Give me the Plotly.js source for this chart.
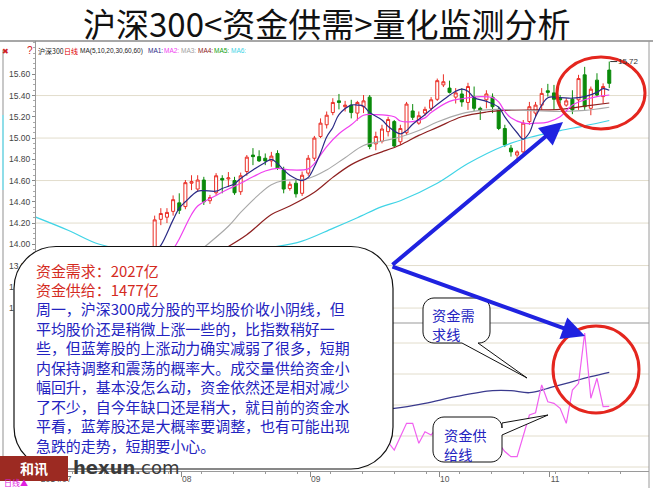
<!DOCTYPE html>
<html><head><meta charset="utf-8">
<script src="https://cdn.plot.ly/plotly-3.0.1.min.js"></script>
<style>html,body{margin:0;padding:0;background:#fff}#chart{width:653px;height:488px}</style>
</head><body><div id="chart"></div>
<script>
// ---------- DATA (day index: 0 = 2014-07-01, trading days) ----------
const candleDays = [18,19,20,21,22,23,24,25,26,27,28,29,30,31,32,33,34,35,36,37,38,39,40,41,42,43,44,45,46,47,48,49,50,51,52,53,54,55,56,57,58,59,60,61,62,63,64,65,66,67,68,69,70,71,72,73,74,75,76,77,78,79,80,81,82,83,84,85,86,87,88,89,90,91,92];
const openP  = [13.93,14.235,14.255,14.31,14.39,14.355,14.575,14.52,14.605,14.41,14.485,14.62,14.615,14.60,14.495,14.685,14.84,14.825,14.81,14.785,14.855,14.70,14.525,14.575,14.48,14.67,14.81,15.015,15.125,15.24,15.35,15.295,15.31,15.235,15.295,15.385,14.945,14.97,15.06,15.155,14.965,15.05,15.255,15.14,15.235,15.28,15.365,15.50,15.47,15.385,15.415,15.335,15.385,15.28,15.36,15.385,15.27,15.09,14.905,14.84,14.87,15.155,15.235,15.31,15.445,15.425,15.375,15.31,15.365,15.36,15.595,15.28,15.545,15.39,15.64];
const highP  = [14.27,14.34,14.34,14.46,14.48,14.605,14.65,14.65,14.635,14.465,14.67,14.65,14.68,14.635,14.675,14.84,14.905,14.885,14.855,14.87,14.885,14.73,14.59,14.605,14.685,14.84,15.02,15.185,15.25,15.375,15.415,15.35,15.36,15.35,15.405,15.405,15.06,15.125,15.20,15.17,15.125,15.34,15.32,15.25,15.295,15.385,15.56,15.60,15.54,15.47,15.47,15.52,15.485,15.295,15.45,15.42,15.295,15.125,14.935,14.885,15.17,15.34,15.34,15.47,15.51,15.50,15.405,15.375,15.45,15.595,15.67,15.485,15.61,15.515,15.72];
const lowP   = [13.90,14.18,14.20,14.27,14.285,14.33,14.51,14.495,14.37,14.38,14.465,14.48,14.54,14.465,14.465,14.645,14.745,14.775,14.745,14.73,14.70,14.48,14.505,14.44,14.455,14.645,14.785,15.00,15.09,15.215,15.27,15.25,15.185,15.165,15.235,14.895,14.885,14.95,15.015,14.915,14.935,15.03,15.17,15.125,15.21,15.255,15.35,15.48,15.42,15.325,15.295,15.265,15.255,15.17,15.28,15.235,15.075,14.915,14.825,14.765,14.84,15.125,15.20,15.265,15.39,15.265,15.325,15.295,15.225,15.265,15.265,15.215,15.39,15.325,15.47];
const closeP = [14.23,14.29,14.30,14.42,14.32,14.58,14.59,14.605,14.40,14.44,14.645,14.605,14.625,14.485,14.645,14.82,14.825,14.785,14.785,14.83,14.715,14.52,14.565,14.475,14.65,14.81,15.00,15.14,15.215,15.335,15.335,15.31,15.24,15.335,15.35,14.92,15.015,15.085,15.175,14.925,15.09,15.32,15.195,15.21,15.27,15.36,15.54,15.53,15.43,15.425,15.34,15.485,15.28,15.265,15.415,15.295,15.09,14.935,14.87,14.87,15.14,15.295,15.31,15.42,15.43,15.365,15.36,15.35,15.265,15.56,15.295,15.46,15.405,15.485,15.515];

const ma5Days  = [18,19,21,22,23,25,26,28,29,31,32,34,36,37,38,39,40,42,43,44,45,46,47,48,50,51,52,53,55,56,58,59,60,62,63,65,67,68,69,70,72,74,75,77,78,79,80,82,84,86,88,90,91,92];
const ma5Vals  = [13.93,13.99,14.23,14.34,14.40,14.50,14.505,14.50,14.525,14.57,14.62,14.70,14.77,14.80,14.76,14.70,14.65,14.60,14.63,14.73,14.86,15.01,15.10,15.22,15.31,15.31,15.30,15.24,15.17,15.11,15.04,15.07,15.13,15.22,15.27,15.36,15.44,15.46,15.44,15.38,15.345,15.29,15.20,15.05,14.99,15.05,15.20,15.38,15.38,15.375,15.39,15.43,15.465,15.45];
const ma10Days = [21,22,24,25,28,30,32,34,36,38,40,43,44,46,48,50,52,54,57,58,60,62,63,66,68,71,73,74,75,76,78,80,82,84,86,88,90,92];
const ma10Vals = [13.95,14.05,14.28,14.36,14.46,14.52,14.575,14.635,14.69,14.715,14.70,14.71,14.76,14.92,15.04,15.125,15.215,15.22,15.20,15.16,15.155,15.19,15.24,15.345,15.37,15.39,15.38,15.34,15.25,15.19,15.14,15.14,15.15,15.20,15.31,15.36,15.39,15.405];
const ma20Days = [26,30,32,35,37,39,43,46,49,52,55,58,61,64,68,71,74,78,81,84,88,92];
const ma20Vals = [13.97,14.17,14.30,14.47,14.56,14.60,14.62,14.70,14.815,14.93,14.97,15.01,15.07,15.15,15.23,15.26,15.27,15.26,15.255,15.25,15.26,15.29];
const ma30Days = [30,33,37,40,44,47,50,53,55,58,61,64,68,72,75,80,84,88,92];
const ma30Vals = [13.98,14.09,14.28,14.36,14.49,14.63,14.75,14.83,14.87,14.935,15.025,15.10,15.20,15.245,15.26,15.265,15.27,15.30,15.33];
const ma60Days = [-2,4,9,17,28,38,42,47,51,55,58,64,69,75,79,84,88,92];
const ma60Vals = [14.27,14.13,14.00,13.92,13.92,13.98,14.03,14.15,14.25,14.355,14.41,14.575,14.76,14.93,15.005,15.07,15.115,15.165];

const demandDays = [54,57,62,67,73,76,79,82,85,89,92];
const demandVals = [1430,1447,1527,1634,1731,1731,1698,1769,1850,1957,2027];
const supplyDays = [55,56,57,58,59,60,61,62,63,64,65,66,67,68,69,70,71,72,73,74,75,76,77,78,79,80,81,82,83,84,85,86,87,88,89,90,91,92];
const supplyVals = [950,900,774,990,1205,1205,882,1069,1016,1150,1000,1250,1100,950,1200,1050,950,1000,1100,880,750,666,666,989,1339,1376,1823,1553,1527,1447,1205,1742,1850,2661,1608,1931,1473,1477];

const monthStartDays = [0,23,44,65,83];
const monthLabels = ['2014/07','08','09','10','11'];
const priceTicks = [13.40,13.60,13.80,14.00,14.20,14.40,14.60,14.80,15.00,15.20,15.40,15.60];
const priceGrid = [13.40,13.80,14.20,14.60,15.00,15.40];
const lastHigh = {day:92, value:15.72};

const titleText = '沪深300&lt;资金供需&gt;量化监测分析';
const headerParts = ['沪深300','日线','MA(5,10,20,30,60,60)','MA1:','MA2:','MA3:','MA4:','MA5:','MA6:'];
const noteRed = ['资金需求：2027亿','资金供给：1477亿'];
const noteBlue = ['周一，沪深300成分股的平均股价收小阴线，但','平均股价还是稍微上涨一些的，比指数稍好一','些，但蓝筹股的上涨动力确实减弱了很多，短期','内保持调整和震荡的概率大。成交量供给资金小','幅回升，基本没怎么动，资金依然还是相对减少','了不少，自今年缺口还是稍大，就目前的资金水','平看，蓝筹股还是大概率要调整，也有可能出现','急跌的走势，短期要小心。'];
const demandLabel = ['资金需','求线'];
const supplyLabel = ['资金供','给线'];

// ---------- LAYOUT GEOMETRY ----------
const W=653,H=488,L=36,R=649,T=41,B=471,PW=R-L,PH=B-T;
const splitY=323;
const px=x=>(x-L)/PW, py=y=>(B-y)/PH;
const P=(x,y)=>px(x).toFixed(5)+','+py(y).toFixed(5);
const K=0.5523;
function roundBox(x0,y0,x1,y1,r,tail){
  const c=r*(1-K);
  let d='M'+P(x0+r,y0)+' L'+P(x1-r,y0)+' C'+P(x1-c,y0)+' '+P(x1,y0+c)+' '+P(x1,y0+r);
  if(tail&&tail.side==='right'){d+=' L'+P(x1,tail.a)+' L'+P(tail.tip[0],tail.tip[1])+' L'+P(x1,tail.b);}
  d+=' L'+P(x1,y1-r)+' C'+P(x1,y1-c)+' '+P(x1-c,y1)+' '+P(x1-r,y1);
  if(tail&&tail.side==='bottom'){d+=' L'+P(tail.b,y1)+' L'+P(tail.tip[0],tail.tip[1])+' L'+P(tail.a,y1);}
  d+=' L'+P(x0+r,y1)+' C'+P(x0+c,y1)+' '+P(x0,y1-c)+' '+P(x0,y1-r);
  d+=' L'+P(x0,y0+r)+' C'+P(x0,y0+c)+' '+P(x0+c,y0)+' '+P(x0+r,y0)+' Z';
  return d;
}
const splitPaper=py(splitY);
const yTopRange=[15.60-(splitY-74.3)/106.25, 15.60+(74.3-T)/106.25];
const yBotRange=[500+(467-B)*500/31, 500+(467-splitY)*500/31];
const xRange=[(L-44.1)/6.143,(R-44.1)/6.143];

const CJK='"Noto Sans CJK SC","Noto Sans",sans-serif';
const NUM='"Liberation Sans",Arial,sans-serif';
const MA_COL=['#2a2a86','#f040f0','#a8a8a8','#8e2020','#40d4e6'];

const traces=[
  {type:'scatter',mode:'lines',x:ma60Days,y:ma60Vals,line:{color:MA_COL[4],width:1.2,shape:'spline'},xaxis:'x',yaxis:'y',hoverinfo:'skip'},
  {type:'scatter',mode:'lines',x:ma30Days,y:ma30Vals,line:{color:MA_COL[3],width:1.2,shape:'spline'},xaxis:'x',yaxis:'y',hoverinfo:'skip'},
  {type:'scatter',mode:'lines',x:ma20Days,y:ma20Vals,line:{color:MA_COL[2],width:1.1,shape:'spline'},xaxis:'x',yaxis:'y',hoverinfo:'skip'},
  {type:'candlestick',x:candleDays,open:openP,high:highP,low:lowP,close:closeP,xaxis:'x',yaxis:'y',
    increasing:{line:{color:'#ea2e26',width:1},fillcolor:'#ffffff'},
    decreasing:{line:{color:'#0a8a0a',width:1},fillcolor:'#0a8a0a'},whiskerwidth:0,hoverinfo:'skip'},
  {type:'scatter',mode:'lines',x:ma10Days,y:ma10Vals,line:{color:MA_COL[1],width:1.2,shape:'spline'},xaxis:'x',yaxis:'y',hoverinfo:'skip'},
  {type:'scatter',mode:'lines',x:ma5Days,y:ma5Vals,line:{color:MA_COL[0],width:1.2,shape:'spline'},xaxis:'x',yaxis:'y',hoverinfo:'skip'},
  {type:'scatter',mode:'lines',x:demandDays,y:demandVals,line:{color:'#3a3a8e',width:1.3,shape:'spline'},xaxis:'x',yaxis:'y2',hoverinfo:'skip'},
  {type:'scatter',mode:'lines',x:supplyDays,y:supplyVals,line:{color:'#f060f0',width:1.2},xaxis:'x',yaxis:'y2',hoverinfo:'skip'}
];

const shapes=[];
priceGrid.forEach(v=>shapes.push({type:'line',xref:'paper',yref:'y',x0:0,x1:1,y0:v,y1:v,line:{color:'#e2ddcc',width:1},layer:'below'}));
[500,1000,1500,2000,2500].forEach(v=>shapes.push({type:'line',xref:'paper',yref:'y2',x0:0,x1:1,y0:v,y1:v,line:{color:'#e2ddcc',width:1},layer:'below'}));
shapes.push({type:'line',xref:'paper',yref:'paper',x0:0,x1:1,y0:splitPaper,y1:splitPaper,line:{color:'#9a9a9a',width:1.2}});
shapes.push({type:'line',xref:'paper',yref:'paper',x0:px(0),x1:px(W),y0:py(41),y1:py(41),line:{color:'#8a8a8a',width:1.5}});
shapes.push({type:'line',xref:'paper',yref:'paper',x0:px(R),x1:px(R),y0:py(41),y1:py(488),line:{color:'#9a9a9a',width:1}});
shapes.push({type:'line',xref:'paper',yref:'paper',x0:px(3),x1:px(3),y0:py(50),y1:py(470),line:{color:'#c8c8c8',width:2}});
shapes.push({type:'line',xref:'paper',yref:'paper',x0:px(3),x1:px(3),y0:py(115),y1:py(190),line:{color:'#8fdde8',width:2}});
shapes.push({type:'path',xref:'paper',yref:'paper',path:roundBox(14,246.5,393,469,42),fillcolor:'#ffffff',line:{color:'#111',width:1.2},layer:'above'});
shapes.push({type:'path',xref:'paper',yref:'paper',path:roundBox(423,298,490,343,11,{side:'bottom',a:462,b:478,tip:[527,378]}),fillcolor:'#ffffff',line:{color:'#111',width:1},layer:'above'});
shapes.push({type:'path',xref:'paper',yref:'paper',path:roundBox(433,417,502,462,11,{side:'right',a:423,b:435,tip:[548,415]}),fillcolor:'#ffffff',line:{color:'#111',width:1},layer:'above'});
shapes.push({type:'circle',xref:'paper',yref:'paper',x0:px(557),x1:px(645),y0:py(57),y1:py(129),line:{color:'#e4261e',width:3},layer:'above'});
shapes.push({type:'circle',xref:'paper',yref:'paper',x0:px(553),x1:px(639),y0:py(326),y1:py(413),line:{color:'#e4261e',width:3},layer:'above'});
shapes.push({type:'rect',xref:'paper',yref:'paper',x0:px(0),x1:px(68),y0:py(456),y1:py(481),fillcolor:'#9c2a22',line:{width:0},layer:'above'});

const ann=[];
const txt=(x,y,text,font,extra)=>Object.assign({xref:'paper',yref:'paper',x:px(x),y:py(y),text:text,showarrow:false,xanchor:'left',yanchor:'middle',font:font,borderpad:0},extra||{});
ann.push(txt(326.5,23,titleText,{family:CJK,size:33,color:'#111'},{xanchor:'center',height:40}));
// header row
const headerX=[37,63,79,147,163,180,197,213,230];
const headerC=['#222','#e00000','#222',MA_COL[0],MA_COL[1],'#a0a0a0',MA_COL[3],'#10a010',MA_COL[4]];
headerParts.forEach((t,n)=>ann.push(txt(headerX[n],50,t,{family:n<2?'"Noto Sans CJK SC",sans-serif':NUM,size:n<2?7:6.5,color:headerC[n]},{height:9})));
ann.push(txt(5,50,'✖',{size:8,color:'#d02020'},{xanchor:'center',height:9}));
ann.push(txt(30,50,'?',{family:NUM,size:10,color:'#d02020'},{xanchor:'center',height:9}));
noteRed.concat(noteBlue).forEach((t,n)=>ann.push(txt(35,270+19.45*n,t,{family:CJK,size:14.95,color:n<2?'#d42a1e':'#2323c0'},{height:19})));
demandLabel.forEach((t,n)=>ann.push(txt(431,315+18.5*n,t,{family:CJK,size:14.2,color:'#2323c0'},{height:18})));
supplyLabel.forEach((t,n)=>ann.push(txt(443,435+18.5*n,t,{family:CJK,size:14.2,color:'#2323c0'},{height:18})));
const startPt=[391,266];
[[563,122],[585,336]].forEach(tp=>ann.push({xref:'paper',yref:'paper',x:px(tp[0]),y:py(tp[1]),ax:startPt[0]-tp[0],ay:startPt[1]-tp[1],text:'',showarrow:true,arrowhead:2,arrowsize:1.15,arrowwidth:4,arrowcolor:'#1f22e0',standoff:0}));
ann.push({xref:'x',yref:'y',x:lastHigh.day,y:lastHigh.value,text:lastHigh.value.toFixed(2),showarrow:true,arrowhead:0,arrowwidth:1,arrowcolor:'#333',ax:8,ay:0,xanchor:'left',yanchor:'middle',font:{family:NUM,size:8,color:'#333'},standoff:1,borderpad:0});
ann.push(txt(34,468,'<b>和讯</b>',{family:CJK,size:14,color:'#ffffff'},{xanchor:'center',height:16}));
ann.push(txt(72,467,'<b>hexun</b>.com',{family:'"DejaVu Sans",sans-serif',size:18,color:'#3a3a3a'},{height:15}));
ann.push(txt(3,482,'日线▲',{family:CJK,size:8,color:'#e020e0'},{height:10}));

const layout={
  width:W,height:H,margin:{l:L,r:W-R,t:T,b:H-B},paper_bgcolor:'#ffffff',plot_bgcolor:'#ffffff',showlegend:false,
  xaxis:{anchor:'y2',range:xRange,showgrid:false,zeroline:false,showline:true,linecolor:'#9a9a9a',
    tickvals:monthStartDays.map(d=>d-0.7),ticktext:monthLabels,ticks:'outside',ticklen:5,tickcolor:'#888',
    ticklabelposition:'outside right',tickfont:{family:NUM,size:8.5,color:'#555'},
    minor:{tickmode:'linear',tick0:-0.7,dtick:5.25,ticks:'outside',ticklen:2,tickcolor:'#999'},
    rangeslider:{visible:false},fixedrange:true},
  yaxis:{domain:[splitPaper,1],range:yTopRange,showgrid:false,zeroline:false,showline:true,linecolor:'#9a9a9a',
    tickvals:priceTicks,ticktext:priceTicks.map(v=>v.toFixed(2)),ticks:'outside',ticklen:3,tickcolor:'#888',
    tickfont:{family:NUM,size:8.5,color:'#444'},
    minor:{tickmode:'linear',tick0:13.4,dtick:0.05,ticks:'outside',ticklen:2,tickcolor:'#aaa'}},
  yaxis2:{domain:[0,splitPaper],range:yBotRange,showgrid:false,zeroline:false,showline:true,linecolor:'#9a9a9a',showticklabels:false,ticks:''},
  shapes:shapes,annotations:ann
};
Plotly.newPlot('chart',traces,layout,{staticPlot:true,displayModeBar:false});
</script></body></html>
